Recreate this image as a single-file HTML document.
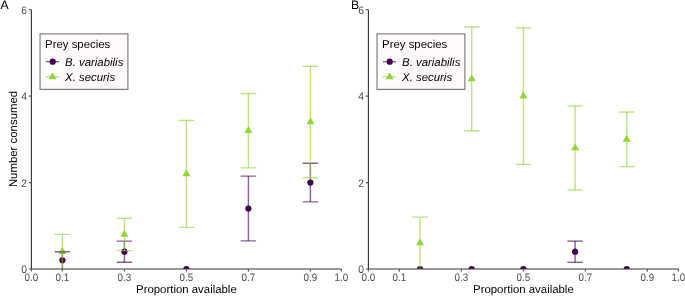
<!DOCTYPE html>
<html><head><meta charset="utf-8"><title>Prey consumption</title>
<style>html,body{margin:0;padding:0;background:#fff;}body{width:685px;height:296px;overflow:hidden;}svg{display:block;}text{text-rendering:geometricPrecision;}</style>
</head><body>
<svg width="685" height="296" viewBox="0 0 685 296" font-family="Liberation Sans, Arial, sans-serif"><clipPath id="clipA"><rect x="31.4" y="-0.32" width="320" height="269.32"/></clipPath>
<g clip-path="url(#clipA)" fill="none" stroke-width="1.4"><circle cx="62.4" cy="260.36" r="3.1" fill="#440154"/><circle cx="124.4" cy="251.71" r="3.1" fill="#440154"/><circle cx="186.4" cy="269" r="3.1" fill="#440154"/><circle cx="248.4" cy="208.49" r="3.1" fill="#440154"/><circle cx="310.4" cy="182.56" r="3.1" fill="#440154"/><path d="M62.4 247.12L66.37 254.01H58.43Z" fill="#92D636"/><path d="M124.4 229.84L128.37 236.72H120.43Z" fill="#92D636"/><path d="M186.4 169.33L190.37 176.21H182.43Z" fill="#92D636"/><path d="M248.4 126.11L252.37 132.99H244.43Z" fill="#92D636"/><path d="M310.4 117.46L314.37 124.35H306.43Z" fill="#92D636"/><g stroke="#440154" stroke-opacity="0.62"><path d="M54.7 251.71H70.1"/><path d="M62.4 251.71V269"/></g><g stroke="#440154" stroke-opacity="0.62"><path d="M116.7 241.12H132.1"/><path d="M124.4 241.12V262.3"/><path d="M116.7 262.3H132.1"/></g><g stroke="#440154" stroke-opacity="0.62"><path d="M240.7 176.08H256.1"/><path d="M248.4 176.08V240.91"/><path d="M240.7 240.91H256.1"/></g><g stroke="#440154" stroke-opacity="0.62"><path d="M302.7 163.24H318.1"/><path d="M310.4 163.24V201.88"/><path d="M302.7 201.88H318.1"/></g><g stroke="#92D636" stroke-opacity="0.62"><path d="M54.7 234.42H70.1"/><path d="M62.4 234.42V269"/></g><g stroke="#92D636" stroke-opacity="0.62"><path d="M116.7 218.26H132.1"/><path d="M124.4 218.26V250.59"/><path d="M116.7 250.59H132.1"/></g><g stroke="#92D636" stroke-opacity="0.62"><path d="M178.7 120.5H194.1"/><path d="M186.4 120.5V227.34"/><path d="M178.7 227.34H194.1"/></g><g stroke="#92D636" stroke-opacity="0.62"><path d="M240.7 93.53H256.1"/><path d="M248.4 93.53V167.87"/><path d="M240.7 167.87H256.1"/></g><g stroke="#92D636" stroke-opacity="0.62"><path d="M302.7 66.3H318.1"/><path d="M310.4 66.3V177.81"/><path d="M302.7 177.81H318.1"/></g></g>
<path d="M31.4 9.68V269H341.4" fill="none" stroke="#333" stroke-width="1.1"/>
<path d="M28.8 269H31.4M28.8 182.56H31.4M28.8 96.12H31.4M28.8 9.68H31.4M31.4 269V271.6M62.4 269V271.6M124.4 269V271.6M186.4 269V271.6M248.4 269V271.6M310.4 269V271.6M341.4 269V271.6" stroke="#5a5a5a" stroke-width="1.2"/>
<g font-size="9.8" fill="#4D4D4D"><text transform="translate(27.1 273.3) scale(1 1.05)" text-anchor="end" font-size="10.3">0</text><text transform="translate(27.1 186.86) scale(1 1.05)" text-anchor="end" font-size="10.3">2</text><text transform="translate(27.1 100.42) scale(1 1.05)" text-anchor="end" font-size="10.3">4</text><text transform="translate(27.1 13.98) scale(1 1.05)" text-anchor="end" font-size="10.3">6</text><text transform="translate(31.4 281.1) scale(1 1.1)" text-anchor="middle">0.0</text><text transform="translate(62.4 281.1) scale(1 1.1)" text-anchor="middle">0.1</text><text transform="translate(124.4 281.1) scale(1 1.1)" text-anchor="middle">0.3</text><text transform="translate(186.4 281.1) scale(1 1.1)" text-anchor="middle">0.5</text><text transform="translate(248.4 281.1) scale(1 1.1)" text-anchor="middle">0.7</text><text transform="translate(310.4 281.1) scale(1 1.1)" text-anchor="middle">0.9</text><text transform="translate(341.4 281.1) scale(1 1.1)" text-anchor="middle">1.0</text></g>
<text x="186.4" y="293.4" text-anchor="middle" font-size="11.4" fill="#000">Proportion available</text>
<rect x="40.05" y="33.9" width="87.85" height="55.5" fill="#FFFAFA" stroke="#7a7a7a" stroke-width="1.15"/>
<rect x="44.5" y="54.3" width="15.5" height="28.8" fill="#fff"/>
<text x="45.1" y="48.2" font-size="11.4">Prey species</text>
<circle cx="52.7" cy="61.7" r="3.1" fill="#440154"/>
<path d="M45.9 61.7H59.1" stroke="#440154" stroke-opacity="0.62" stroke-width="1.4"/>
<path d="M52.5 72.4L56.5 79.3H48.5Z" fill="#92D636"/>
<path d="M45.9 76.8H59.1" stroke="#92D636" stroke-opacity="0.62" stroke-width="1.4"/>
<g font-size="11.4" font-style="italic"><text x="65.1" y="65.7">B. variabilis</text><text x="65.1" y="80.5">X. securis</text></g>
<clipPath id="clipB"><rect x="368.4" y="-0.32" width="320" height="269.32"/></clipPath>
<g clip-path="url(#clipB)" fill="none" stroke-width="1.4"><circle cx="420.07" cy="269" r="3.1" fill="#440154"/><circle cx="471.73" cy="269" r="3.1" fill="#440154"/><circle cx="523.4" cy="269" r="3.1" fill="#440154"/><circle cx="575.07" cy="251.71" r="3.1" fill="#440154"/><circle cx="626.73" cy="269" r="3.1" fill="#440154"/><path d="M420.07 238.48L424.04 245.36H416.09Z" fill="#92D636"/><path d="M471.73 74.24L475.71 81.13H467.76Z" fill="#92D636"/><path d="M523.4 91.53L527.37 98.42H519.43Z" fill="#92D636"/><path d="M575.07 143.4L579.04 150.28H571.09Z" fill="#92D636"/><path d="M626.73 134.75L630.71 141.64H622.76Z" fill="#92D636"/><g stroke="#440154" stroke-opacity="0.62"><path d="M567.37 241.12H582.77"/><path d="M575.07 241.12V262.3"/><path d="M567.37 262.3H582.77"/></g><g stroke="#92D636" stroke-opacity="0.62"><path d="M412.37 217.14H427.77"/><path d="M420.07 217.14V269"/></g><g stroke="#92D636" stroke-opacity="0.62"><path d="M464.03 26.97H479.43"/><path d="M471.73 26.97V130.7"/><path d="M464.03 130.7H479.43"/></g><g stroke="#92D636" stroke-opacity="0.62"><path d="M515.7 27.83H531.1"/><path d="M523.4 27.83V164.41"/><path d="M515.7 164.41H531.1"/></g><g stroke="#92D636" stroke-opacity="0.62"><path d="M567.37 106.06H582.77"/><path d="M575.07 106.06V189.91"/><path d="M567.37 189.91H582.77"/></g><g stroke="#92D636" stroke-opacity="0.62"><path d="M619.03 112.02H634.43"/><path d="M626.73 112.02V166.66"/><path d="M619.03 166.66H634.43"/></g></g>
<path d="M368.4 9.68V269H678.4" fill="none" stroke="#333" stroke-width="1.1"/>
<path d="M365.8 269H368.4M365.8 182.56H368.4M365.8 96.12H368.4M365.8 9.68H368.4M368.4 269V271.6M399.4 269V271.6M461.4 269V271.6M523.4 269V271.6M585.4 269V271.6M647.4 269V271.6M678.4 269V271.6" stroke="#5a5a5a" stroke-width="1.2"/>
<g font-size="9.8" fill="#4D4D4D"><text transform="translate(364.1 273.3) scale(1 1.05)" text-anchor="end" font-size="10.3">0</text><text transform="translate(364.1 186.86) scale(1 1.05)" text-anchor="end" font-size="10.3">2</text><text transform="translate(364.1 100.42) scale(1 1.05)" text-anchor="end" font-size="10.3">4</text><text transform="translate(364.1 13.98) scale(1 1.05)" text-anchor="end" font-size="10.3">6</text><text transform="translate(368.4 281.1) scale(1 1.1)" text-anchor="middle">0.0</text><text transform="translate(399.4 281.1) scale(1 1.1)" text-anchor="middle">0.1</text><text transform="translate(461.4 281.1) scale(1 1.1)" text-anchor="middle">0.3</text><text transform="translate(523.4 281.1) scale(1 1.1)" text-anchor="middle">0.5</text><text transform="translate(585.4 281.1) scale(1 1.1)" text-anchor="middle">0.7</text><text transform="translate(647.4 281.1) scale(1 1.1)" text-anchor="middle">0.9</text><text transform="translate(678.4 281.1) scale(1 1.1)" text-anchor="middle">1.0</text></g>
<text x="523.4" y="293.4" text-anchor="middle" font-size="11.4" fill="#000">Proportion available</text>
<rect x="377.05" y="33.9" width="87.85" height="55.5" fill="#FFFAFA" stroke="#7a7a7a" stroke-width="1.15"/>
<rect x="381.5" y="54.3" width="15.5" height="28.8" fill="#fff"/>
<text x="382.1" y="48.2" font-size="11.4">Prey species</text>
<circle cx="389.7" cy="61.7" r="3.1" fill="#440154"/>
<path d="M382.9 61.7H396.1" stroke="#440154" stroke-opacity="0.62" stroke-width="1.4"/>
<path d="M389.5 72.4L393.5 79.3H385.5Z" fill="#92D636"/>
<path d="M382.9 76.8H396.1" stroke="#92D636" stroke-opacity="0.62" stroke-width="1.4"/>
<g font-size="11.4" font-style="italic"><text x="402.1" y="65.7">B. variabilis</text><text x="402.1" y="80.5">X. securis</text></g>
<text transform="translate(17.2 139) rotate(-90)" text-anchor="middle" font-size="11.4">Number consumed</text>
<text x="0.4" y="8.9" font-size="12.2">A</text><text x="351.1" y="8.9" font-size="12.2">B</text></svg>
</body></html>
